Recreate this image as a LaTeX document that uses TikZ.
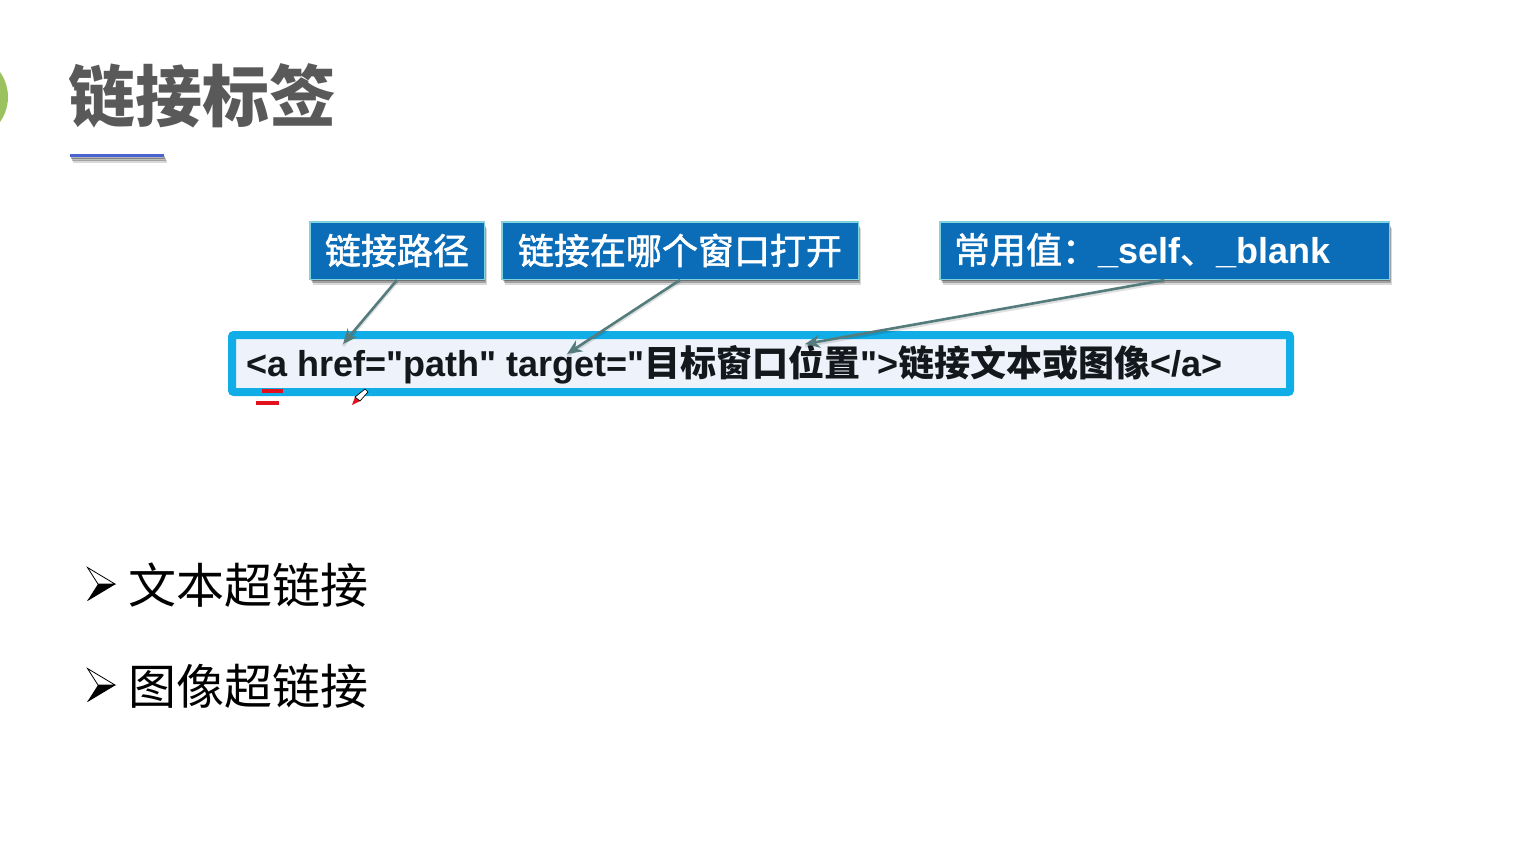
\documentclass[tikz,border=0pt]{standalone}
\usepackage{fontspec}
\usepackage{xcolor}
\usetikzlibrary{shadows,arrows.meta}
\setmainfont{Liberation Sans}
\newfontfamily\codefont{Liberation Sans}
\newfontfamily\cjk{Noto Sans CJK SC}
\newfontfamily\cjktag[FakeBold=1.6]{Noto Sans CJK SC}
\definecolor{titlegray}{HTML}{595959}
\definecolor{titlegreen}{HTML}{9BC25F}
\definecolor{rulecolor}{HTML}{4A63D0}
\definecolor{tagblue}{HTML}{0B6CB8}
\definecolor{tagedge}{HTML}{7FD3DE}
\definecolor{codeedge}{HTML}{10ADE6}
\definecolor{codefill}{HTML}{EEF3FB}
\definecolor{codeink}{HTML}{14181C}
\definecolor{pointer}{HTML}{557C7C}
\definecolor{penred}{HTML}{E3101E}
\tikzset{
	softshadow/.style={
		drop shadow={shadow xshift=1pt,shadow yshift=-2pt,opacity=.3,fill=black},
		drop shadow={shadow xshift=2pt,shadow yshift=-4pt,opacity=.25,fill=black},
		drop shadow={shadow xshift=3pt,shadow yshift=-6pt,opacity=.15,fill=black}},
	tag/.style={draw=tagedge,fill=tagblue,line width=1.5pt,text=white,anchor=north west,
		minimum height=57.5pt,inner sep=0pt,font=\fontsize{36pt}{40pt}\selectfont,softshadow},
	pointerline/.style={draw=pointer,line width=2.6pt,-{Stealth[length=15pt,width=13pt]},
		preaction={draw=black,draw opacity=.12,line width=3pt,-,transform canvas={yshift=-2pt}}},
	itemtext/.style={anchor=west,inner sep=0pt,font=\fontsize{48pt}{52pt}\selectfont\cjk},
	redmark/.style={penred,line width=3.2pt},
}
\newcommand{\itemarrow}[1]{
	\filldraw[fill=white,draw=black,line width=.8pt] (87.5,#1-16.5)--(115,#1)--(98,#1)--cycle;
	\fill[black] (87.5,#1+16.5)--(115,#1)--(98,#1)--cycle;
	\draw[line width=.8pt] (87.5,#1+16.5)--(115,#1);
}
\begin{document}
\begin{tikzpicture}[x=1pt,y=-1pt]
	\useasboundingbox (0,0) rectangle (1536,846);
	\clip (0,0) rectangle (1536,846);
	\fill[white] (0,0) rectangle (1536,846);

	\fill[titlegreen] (-35,97) circle (43);
	\node[anchor=west,inner sep=0pt,text=titlegray,font=\fontsize{67pt}{70pt}\selectfont\cjk\bfseries] (title) at (68,96) {链接标签};
	\fill[rulecolor,softshadow] (70,154) rectangle (164,157);

	\node[draw=codeedge,fill=codefill,line width=8pt,rounded corners=2pt,anchor=north west,minimum width=1058pt,minimum height=57pt,inner sep=0pt] (code) at (228,331) {};
	\node[anchor=west,inner sep=0pt,text=codeink,font=\fontsize{36pt}{40pt}\selectfont\codefont\bfseries] (codetext) at (246,365) {<a href="path" target="{\cjk 目标窗口位置}">{\cjk 链接文本或图像}</a>};

	\node[tag,minimum width=174.5pt] (pathtag) at (309,221) {\cjktag 链接路径};
	\node[tag,minimum width=356.5pt] (windowtag) at (501,221) {\cjktag 链接在哪个窗口打开};
	\node[tag,minimum width=449.5pt,text width=421pt,align=left] (valuetag) at (939,221) {{\cjktag 常用值：}\textbf{\_self}{\cjktag 、}\textbf{\_blank}};

	\coordinate (pathtip) at (343,344);
	\coordinate (windowtip) at (567,354);
	\coordinate (valuetip) at (805,344);
	\draw[pointerline] (pathtag.south) -- (pathtip);
	\draw[pointerline] (windowtag.south) -- (windowtip);
	\draw[pointerline] (valuetag.south) -- (valuetip);

	\draw[redmark] (262,391) -- (283,391);
	\draw[redmark] (256,403) -- (279,403);
	\fill[penred] (352,405) -- (355,397) -- (360,401) -- cycle;
	\filldraw[fill=white,draw=black,line width=.7pt] (355,397) -- (365,389) -- (368,392) -- (360,401) -- cycle;

	\itemarrow{584}
	\itemarrow{685}
	\node[itemtext] (textlink) at (128,585) {文本超链接};
	\node[itemtext] (imagelink) at (128,686) {图像超链接};
\end{tikzpicture}
\end{document}
